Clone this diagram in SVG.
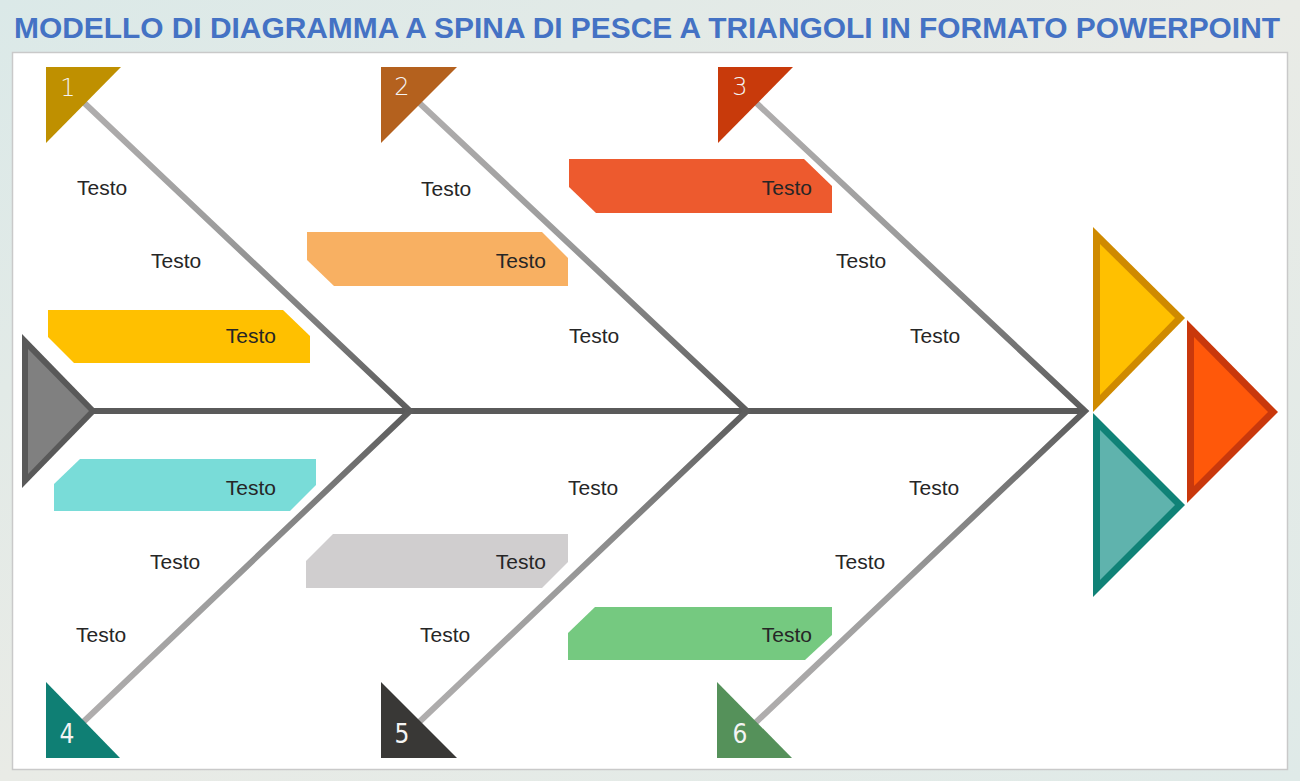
<svg xmlns="http://www.w3.org/2000/svg" width="1300" height="781" viewBox="0 0 1300 781">
<defs>
<linearGradient id="bg" x1="0" y1="0" x2="1" y2="1">
<stop offset="0" stop-color="#dbe9e8"/>
<stop offset="0.5" stop-color="#e9ebe6"/>
<stop offset="1" stop-color="#dfeae8"/>
</linearGradient>
<linearGradient id="bone" gradientUnits="userSpaceOnUse" x1="0" y1="100" x2="0" y2="722">
<stop offset="0" stop-color="#b0aeae"/>
<stop offset="0.22" stop-color="#9c9c9c"/>
<stop offset="0.5" stop-color="#5c5c5c"/>
<stop offset="0.78" stop-color="#9c9c9c"/>
<stop offset="1" stop-color="#b0aeae"/>
</linearGradient>
<style>
.t{font-family:"Liberation Sans",Arial,sans-serif;font-size:21px;fill:#262626}
.tr{font-family:"Liberation Sans",Arial,sans-serif;font-size:21px;fill:#262626;text-anchor:end}
.num{font-family:"DejaVu Sans","Liberation Sans",sans-serif;font-size:24px;fill:#f4f4f4;text-anchor:middle;font-weight:300}
.numc{font-family:"DejaVu Sans Condensed","Liberation Sans Narrow","Liberation Sans",sans-serif;font-stretch:condensed;font-size:26px;fill:#f4f4f4;text-anchor:middle;font-weight:300}
.bone{fill:none;stroke:url(#bone);stroke-width:6;stroke-linejoin:miter;stroke-miterlimit:10}
</style>
</defs>
<rect x="0" y="0" width="1300" height="781" fill="url(#bg)"/>
<text x="14" y="38" font-family="Liberation Sans,Arial,sans-serif" font-weight="bold" font-size="29" fill="#4472C4" textLength="1266" lengthAdjust="spacingAndGlyphs">MODELLO DI DIAGRAMMA A SPINA DI PESCE A TRIANGOLI IN FORMATO POWERPOINT</text>
<rect x="12.5" y="52.5" width="1275" height="717" fill="#ffffff" stroke="#c9c9c9" stroke-width="1.5"/>

<g id="connectors">
<line x1="92" y1="411" x2="1086" y2="411" stroke="#5a5a5a" stroke-width="6"/>
<path class="bone" d="M78,97 L410,411 L78,727"/>
<path class="bone" d="M413,97 L747,411 L414,727"/>
<path class="bone" d="M750,97 L1085,411 L751,727"/>
</g>

<g id="tail">
<polygon points="22,334 97,411 22,488" fill="#595959"/>
<polygon points="28,349 89,411 28,474" fill="#808080"/>
</g>

<g id="head">
<polygon points="1093,227 1185,318 1093,412" fill="#cf8a00"/>
<polygon points="1100,244 1175,318 1100,395" fill="#ffc000"/>
<polygon points="1187,320 1278,412 1187,503" fill="#c9380c"/>
<polygon points="1194,337 1268,412 1194,486" fill="#ff580a"/>
<polygon points="1093,413 1185,505 1093,597" fill="#108277"/>
<polygon points="1100,430 1175,505 1100,580" fill="#5fb3ad"/>
</g>

<g id="node-1">
<polygon points="46,67 121,67 46,143" fill="#bf9000"/>
<text class="num" x="68" y="96">1</text>
</g>
<g id="node-2">
<polygon points="381,67 457,67 381,143" fill="#b4611e"/>
<text class="num" x="402" y="95">2</text>
</g>
<g id="node-3">
<polygon points="718,67 793,67 718,143" fill="#c83a0b"/>
<text class="num" x="740" y="95">3</text>
</g>
<g id="node-4">
<polygon points="46,682 46,758 120,758" fill="#0f7f74"/>
<text class="numc" x="67" y="743">4</text>
</g>
<g id="node-5">
<polygon points="381,682 381,758 457,758" fill="#393836"/>
<text class="numc" x="402" y="743">5</text>
</g>
<g id="node-6">
<polygon points="717,682 717,758 792,758" fill="#55915a"/>
<text class="numc" x="740" y="743">6</text>
</g>

<g id="band-yellow">
<path d="M48,310 L283,310 L310,336 L310,363 L74,363 L48,337 Z" fill="#ffc000"/>
<text class="tr" x="276" y="343">Testo</text>
</g>
<g id="band-teal">
<path d="M80,459 L316,459 L316,485 L290,511 L54,511 L54,484 Z" fill="#79dcd8"/>
<text class="tr" x="276" y="495">Testo</text>
</g>
<g id="band-lightorange">
<path d="M307,232 L542,232 L568,258 L568,286 L334,286 L307,260 Z" fill="#f8b062"/>
<text class="tr" x="546" y="268">Testo</text>
</g>
<g id="band-gray">
<path d="M333,534 L568,534 L568,562 L542,588 L306,588 L306,561 Z" fill="#d0cecf"/>
<text class="tr" x="546" y="569">Testo</text>
</g>
<g id="band-red">
<path d="M569,159 L804,159 L832,186 L832,213 L596,213 L569,187 Z" fill="#ed5a2e"/>
<text class="tr" x="812" y="195">Testo</text>
</g>
<g id="band-green">
<path d="M595,607 L832,607 L832,635 L805,660 L568,660 L568,633 Z" fill="#75c980"/>
<text class="tr" x="812" y="642">Testo</text>
</g>

<g id="labels">
<text class="t" x="77" y="195">Testo</text>
<text class="t" x="151" y="268">Testo</text>
<text class="t" x="421" y="196">Testo</text>
<text class="t" x="569" y="343">Testo</text>
<text class="t" x="836" y="268">Testo</text>
<text class="t" x="910" y="343">Testo</text>
<text class="t" x="568" y="495">Testo</text>
<text class="t" x="150" y="569">Testo</text>
<text class="t" x="76" y="642">Testo</text>
<text class="t" x="420" y="642">Testo</text>
<text class="t" x="835" y="569">Testo</text>
<text class="t" x="909" y="495">Testo</text>
</g>
</svg>
